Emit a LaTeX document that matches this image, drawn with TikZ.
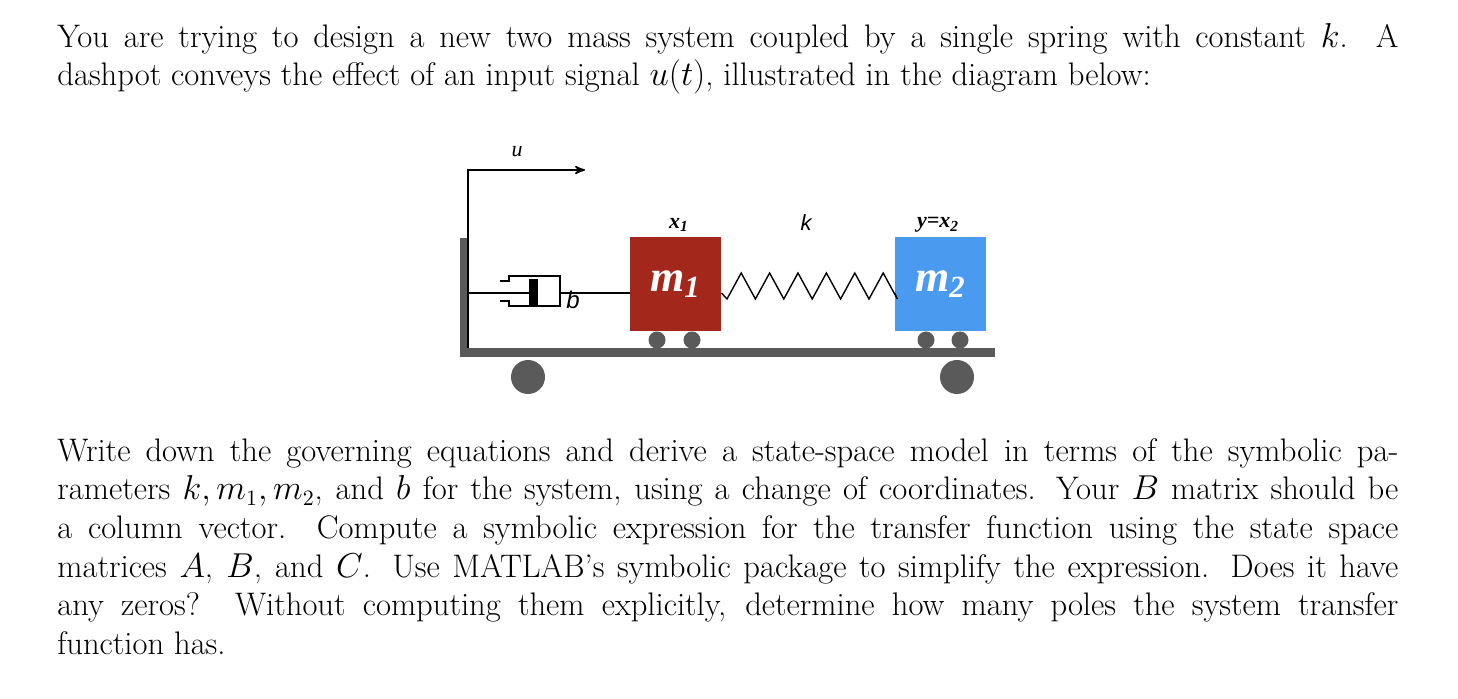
\documentclass[tikz,border=0pt]{standalone}
\usepackage{fontspec}
\newfontfamily\lsans{Liberation Sans}
\newfontfamily\lserif{Liberation Serif}
\usetikzlibrary{arrows}
\definecolor{massred}{RGB}{163,39,26}
\definecolor{massblue}{RGB}{74,155,240}
\definecolor{railgray}{RGB}{90,90,90}
\begin{document}
\begin{tikzpicture}[x=0.5pt,y=-0.5pt,>=stealth',
  para/.style={anchor=north west,inner sep=0pt,text width=670.5pt,align=justify,
    font=\fontsize{16.3}{19.1}\selectfont},
  mass/.style={draw=none,minimum width=45.5pt,minimum height=47pt,inner sep=0pt,
    text=white,font=\lserif\bfseries\itshape\fontsize{22}{22}\selectfont},
  wheel/.style={circle,fill=railgray,inner sep=0pt,minimum size=#1},
  lbl/.style={inner sep=0pt,font=\fontsize{9}{9}\selectfont}]
  \useasboundingbox (0,0) rectangle (1458,699);

  % text
  \node[para] (top) at (57,23) {You are trying to design a new two mass system coupled by a single spring with constant $k$. A\linebreak
    dashpot conveys the effect of an input signal $u(t)$, illustrated in the diagram below:};
  \node[para,font=\fontsize{16.3}{19.3}\selectfont] (bottom) at (57,438) {Write down the governing equations and derive a state-space model in terms of the symbolic pa-\linebreak
    rameters $k,m_1,m_2$, and $b$ for the system, using a change of coordinates. Your $B$ matrix should be\linebreak
    a column vector. Compute a symbolic expression for the transfer function using the state space\linebreak
    matrices $A$, $B$, and $C$. Use MATLAB's symbolic package to simplify the expression. Does it have\linebreak
    any zeros? Without computing them explicitly, determine how many poles the system transfer\linebreak
    function has.};

  % frame
  \fill[railgray] (460,238) rectangle (468,357);
  \fill[railgray] (460,348) rectangle (995,357);
  \node[wheel=34pt/2] (w1) at (528,377) {};
  \node[wheel=34pt/2] (w2) at (957,377) {};

  % masses
  \node[mass,fill=massred] (m1) at (675.5,284) {\raisebox{-3pt}{m\textsubscript{1}}};
  \node[mass,fill=massblue] (m2) at (940.5,284) {\raisebox{-3pt}{m\textsubscript{2}}};
  \foreach \x in {657,692,926,960}
    \node[wheel=17pt/2] at (\x,340) {};

  % input arrow
  \coordinate (ubase) at (468,348);
  \coordinate (utip) at (585,170);
  \draw[thick,->] (ubase) |- (utip);
  \node[lbl,font=\lserif\itshape\fontsize{11}{11}\selectfont] (u) at (517,152) {u};

  % dashpot
  \coordinate (wall) at (468,293);
  \coordinate (rod) at (560,293);
  \draw[line width=0.7pt] (wall) -- (529,293);
  \fill (529,279) rectangle (538,305);
  \draw[line width=0.7pt] (500,281) -- (509,281) -- (509,276) -- (560,276) -- (560,306)
    -- (509,306) -- (509,301) -- (500,301);
  \draw[line width=0.7pt] (rod) -- (rod -| m1.west);
  \node[lbl,font=\lsans\itshape\fontsize{12}{12}\selectfont] (b) at (573,300) {b};

  % spring
  \draw[line width=0.7pt] (m1.east |- 0,293) -- (727,299)
    \foreach \i in {0,...,5} { -- ++(14.2,-26) -- ++(14.2,26) } -- (m2.west |- 0,293);

  % labels
  \node[lbl,font=\lserif\bfseries\itshape\fontsize{11}{11}\selectfont] (x1) at (679,225) {x\textsubscript{1}};
  \node[lbl,font=\lsans\itshape\fontsize{11}{11}\selectfont] (k) at (806,223) {k};
  \node[lbl,font=\lserif\bfseries\itshape\fontsize{11}{11}\selectfont] (y) at (938,225) {y=x\textsubscript{2}};
\end{tikzpicture}
\end{document}
